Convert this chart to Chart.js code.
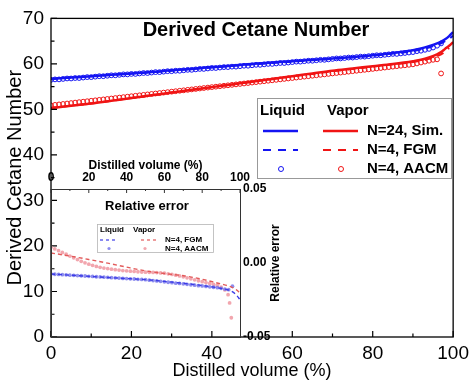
<!DOCTYPE html>
<html>
<head>
<meta charset="utf-8">
<script src="https://cdn.jsdelivr.net/npm/chart.js@4.4.1/dist/chart.umd.min.js"></script>
<style>
  body { margin: 0; background: #fff; }
  #wrap { position: relative; width: 474px; height: 384px; background: #fff; }
  #main { position: absolute; left: 0; top: 0; }
  #inset { position: absolute; left: 0; top: 140px; }
</style>
</head>
<body>
<div id="wrap">
  <canvas id="main" width="474" height="384"></canvas>
  <canvas id="inset" width="300" height="210"></canvas>
</div>
<script>
// ---- main chart data (distilled volume %, derived cetane number) ----
const lineX = [0, 5, 10, 15, 20, 25, 30, 35, 40, 45, 50, 55, 60, 65, 70, 75, 80, 85, 90, 92, 94, 96, 97, 98, 99, 100];
const liquidSim = [56.7, 57.0, 57.3, 57.6, 57.9, 58.2, 58.6, 58.9, 59.3, 59.6, 60.0, 60.3, 60.6, 60.9, 61.2, 61.5, 61.9, 62.4, 63.0, 63.4, 63.9, 64.5, 64.9, 65.4, 66.1, 67.0];
const liquidFgm = [56.7, 57.0, 57.3, 57.6, 57.9, 58.2, 58.5, 58.9, 59.2, 59.6, 59.9, 60.2, 60.5, 60.8, 61.1, 61.4, 61.8, 62.3, 62.8, 63.2, 63.6, 64.2, 64.5, 65.0, 65.5, 66.2];
const vaporSim = [50.3, 50.8, 51.3, 51.9, 52.5, 53.1, 53.7, 54.3, 54.9, 55.5, 56.1, 56.7, 57.3, 57.9, 58.5, 59.0, 59.5, 60.0, 60.6, 60.9, 61.4, 62.1, 62.6, 63.3, 64.0, 64.8];
const vaporFgm = [50.3, 50.8, 51.3, 51.9, 52.5, 53.1, 53.7, 54.3, 54.9, 55.5, 56.1, 56.7, 57.3, 57.8, 58.4, 58.9, 59.4, 59.9, 60.4, 60.7, 61.1, 61.7, 62.1, 62.7, 63.5, null];

const dotX = [0, 1, 2, 3, 4, 5, 6, 7, 8, 9, 10, 11, 12, 13, 14, 15, 16, 17, 18, 19,
  20, 21, 22, 23, 24, 25, 26, 27, 28, 29, 30, 31, 32, 33, 34, 35, 36, 37, 38, 39,
  40, 41, 42, 43, 44, 45, 46, 47, 48, 49, 50, 51, 52, 53, 54, 55, 56, 57, 58, 59,
  60, 61, 62, 63, 64, 65, 66, 67, 68, 69, 70, 71, 72, 73, 74, 75, 76, 77, 78, 79,
  80, 81, 82, 83, 84, 85, 86, 87, 88, 89, 90, 91, 92, 93, 94, 95, 96, 97];
const liquidAacm = [56.5, 56.6, 56.6, 56.7, 56.8, 56.8, 56.9, 56.9, 57.0, 57.1,
  57.1, 57.2, 57.3, 57.3, 57.4, 57.5, 57.5, 57.6, 57.7, 57.7,
  57.8, 57.8, 57.9, 58.0, 58.0, 58.1, 58.2, 58.2, 58.3, 58.4,
  58.4, 58.5, 58.5, 58.6, 58.7, 58.7, 58.8, 58.9, 58.9, 59.0,
  59.1, 59.1, 59.2, 59.3, 59.3, 59.4, 59.4, 59.5, 59.6, 59.6,
  59.7, 59.8, 59.8, 59.9, 60.0, 60.0, 60.1, 60.2, 60.2, 60.3,
  60.4, 60.5, 60.5, 60.6, 60.7, 60.7, 60.8, 60.9, 60.9, 61.0,
  61.1, 61.2, 61.2, 61.3, 61.4, 61.4, 61.5, 61.6, 61.6, 61.7,
  61.8, 61.9, 61.9, 62.0, 62.1, 62.2, 62.2, 62.3, 62.4, 62.5,
  62.6, 62.8, 62.9, 63.1, 63.3, 63.6, 64.0, 64.5];
const vaporAacm = [50.9, 51.0, 51.1, 51.2, 51.3, 51.4, 51.5, 51.6, 51.7, 51.8,
  51.9, 52.0, 52.1, 52.2, 52.3, 52.4, 52.5, 52.6, 52.7, 52.8,
  52.9, 53.0, 53.1, 53.2, 53.3, 53.4, 53.5, 53.6, 53.7, 53.8,
  53.9, 54.0, 54.1, 54.2, 54.3, 54.4, 54.5, 54.6, 54.7, 54.8,
  54.9, 55.0, 55.1, 55.2, 55.3, 55.4, 55.5, 55.6, 55.7, 55.8,
  55.9, 56.0, 56.1, 56.2, 56.3, 56.4, 56.5, 56.6, 56.7, 56.8,
  56.9, 57.0, 57.1, 57.2, 57.3, 57.4, 57.5, 57.6, 57.7, 57.8,
  57.9, 58.0, 58.1, 58.2, 58.3, 58.4, 58.5, 58.6, 58.7, 58.8,
  58.9, 59.0, 59.1, 59.2, 59.3, 59.4, 59.5, 59.6, 59.7, 59.8,
  59.9, 60.1, 60.3, 60.5, 60.7, 60.9, 61.0, 57.9];

// ---- inset data (relative error) ----
const insetLineX = [0, 10, 20, 30, 40, 50, 60, 70, 80, 90, 95, 98, 100];
const liquidFgmErr = [-0.0074, -0.0082, -0.0090, -0.0098, -0.0105, -0.0112, -0.0124, -0.0137, -0.0152, -0.0172, -0.0188, -0.0215, -0.0248];
const vaporFgmErr = [0.0068, 0.0047, 0.0024, -0.0001, -0.0028, -0.0053, -0.0071, -0.0086, -0.0110, -0.0142, -0.0160, -0.0180, -0.0203];

const liquidDotX = [0, 2, 4, 6, 8, 10, 12, 14, 16, 18, 20, 22, 24, 26, 28, 30, 32, 34, 36, 38,
  40, 42, 44, 46, 48, 50, 52, 54, 56, 58, 60, 62, 64, 66, 68, 70, 72, 74, 76, 78,
  80, 82, 84, 86, 88, 90, 92, 94, 96];
const liquidAacmErr = [-0.0074, -0.0076, -0.0077, -0.0079, -0.0080, -0.0082, -0.0083, -0.0085, -0.0086, -0.0088,
  -0.0090, -0.0091, -0.0093, -0.0094, -0.0096, -0.0097, -0.0099, -0.0100, -0.0102, -0.0104,
  -0.0105, -0.0107, -0.0108, -0.0110, -0.0111, -0.0113, -0.0116, -0.0119, -0.0121, -0.0124,
  -0.0127, -0.0130, -0.0133, -0.0136, -0.0138, -0.0141, -0.0144, -0.0147, -0.0150, -0.0153,
  -0.0155, -0.0158, -0.0161, -0.0164, -0.0167, -0.0171, -0.0176, -0.0180, -0.0157];
const vaporDotX = [0, 2, 4, 6, 8, 10, 12, 14, 16, 18, 20, 22, 24, 26, 28, 30, 32, 34, 36, 38,
  40, 42, 44, 46, 48, 50, 52, 54, 56, 58, 60, 62, 64, 66, 68, 70, 72, 74, 76, 78,
  80, 82, 84, 86, 88, 90, 92, 93.7, 94.5, 95.4];
const vaporAacmErr = [0.0106, 0.0095, 0.0083, 0.0071, 0.0059, 0.0047, 0.0035, 0.0023, 0.0011, 0.0001,
  -0.0008, -0.0016, -0.0023, -0.0029, -0.0034, -0.0038, -0.0042, -0.0045, -0.0048, -0.0051,
  -0.0053, -0.0055, -0.0057, -0.0059, -0.0061, -0.0062, -0.0063, -0.0064, -0.0065, -0.0067,
  -0.0069, -0.0073, -0.0077, -0.0082, -0.0087, -0.0093, -0.0100, -0.0107, -0.0114, -0.0120,
  -0.0126, -0.0132, -0.0138, -0.0144, -0.0152, -0.0164, -0.0182, -0.0214, -0.0270, -0.0370];

const BLUE = '#1414f2';
const RED = '#f01414';
const FONT = "'Liberation Sans', Arial, sans-serif";
Chart.defaults.font.family = FONT;
Chart.defaults.color = '#000';

const pts = (xs, ys) => xs.map((x, i) => ({ x: x, y: ys[i] }));

// frame, inward ticks, title and the two-column legend
const mainDecor = {
  id: 'mainDecor',
  afterDatasetsDraw(chart) {
    const { ctx, chartArea: a, scales: { x, y } } = chart;
    ctx.save();
    ctx.strokeStyle = '#000';
    ctx.lineWidth = 1.3;
    ctx.strokeRect(a.left, a.top, a.right - a.left, a.bottom - a.top);
    ctx.lineWidth = 1.2;
    ctx.beginPath();
    for (let v = 0; v <= 70; v += 5) {
      const py = y.getPixelForValue(v);
      ctx.moveTo(a.left, py);
      ctx.lineTo(a.left + (v % 10 === 0 ? 6 : 3.5), py);
    }
    for (let v = 0; v <= 100; v += 10) {
      const px = x.getPixelForValue(v);
      ctx.moveTo(px, a.bottom);
      ctx.lineTo(px, a.bottom - (v % 20 === 0 ? 6 : 3.5));
    }
    ctx.stroke();

    ctx.fillStyle = '#000';
    ctx.textAlign = 'center';
    ctx.textBaseline = 'middle';
    ctx.font = 'bold 20px ' + FONT;
    ctx.fillText('Derived Cetane Number', 256, 30);

    // legend box
    ctx.fillStyle = '#fff';
    ctx.fillRect(257.5, 98.5, 194, 80);
    ctx.strokeStyle = '#999';
    ctx.lineWidth = 1;
    ctx.strokeRect(257.5, 98.5, 194, 80);
    ctx.fillStyle = '#000';
    ctx.textAlign = 'left';
    ctx.font = 'bold 15px ' + FONT;
    ctx.fillText('Liquid', 260, 111);
    ctx.fillText('Vapor', 327, 111);
    ctx.fillText('N=24, Sim.', 367, 131);
    ctx.fillText('N=4, FGM', 367, 150);
    ctx.fillText('N=4, AACM', 367, 169);

    const seg = (x0, x1, yy, col, w, dash) => {
      ctx.beginPath();
      ctx.setLineDash(dash);
      ctx.strokeStyle = col;
      ctx.lineWidth = w;
      ctx.moveTo(x0, yy);
      ctx.lineTo(x1, yy);
      ctx.stroke();
      ctx.setLineDash([]);
    };
    seg(263, 298, 131, BLUE, 2.5, []);
    seg(323, 358, 131, RED, 2.5, []);
    seg(263, 298, 150, BLUE, 2, [8, 7]);
    seg(323, 358, 150, RED, 2, [8, 7]);
    ctx.lineWidth = 1;
    ctx.strokeStyle = BLUE;
    ctx.beginPath(); ctx.arc(281, 169, 2.5, 0, Math.PI * 2); ctx.stroke();
    ctx.strokeStyle = RED;
    ctx.beginPath(); ctx.arc(341, 169, 2.5, 0, Math.PI * 2); ctx.stroke();
    ctx.restore();
  }
};

const lineSet = (data, col, w, dash) => ({
  data: data, showLine: true, borderColor: col, borderWidth: w, borderDash: dash,
  pointRadius: 0, fill: false, cubicInterpolationMode: 'monotone', order: 2
});
const dotSet = (data, col) => ({
  data: data, showLine: false, pointRadius: 2.4, pointStyle: 'circle',
  pointBorderColor: col, pointBackgroundColor: 'rgba(0,0,0,0)', pointBorderWidth: 1, order: 1
});

new Chart(document.getElementById('main'), {
  type: 'scatter',
  data: {
    datasets: [
      lineSet(pts(lineX, liquidSim), BLUE, 2.5, []),
      lineSet(pts(lineX, vaporSim), RED, 2.5, []),
      lineSet(pts(lineX, liquidFgm), BLUE, 2, [7, 6]),
      lineSet(pts(lineX, vaporFgm), RED, 2, [7, 6]),
      dotSet(pts(dotX, liquidAacm), BLUE),
      dotSet(pts(dotX, vaporAacm), RED)
    ]
  },
  options: {
    responsive: false,
    animation: false,
    layout: { padding: { left: 0, top: 12, right: 16, bottom: 0 } },
    plugins: { legend: { display: false }, tooltip: { enabled: false } },
    scales: {
      x: {
        type: 'linear', min: 0, max: 100,
        grid: { display: false, drawTicks: false },
        border: { display: false },
        ticks: { stepSize: 20, font: { size: 19 }, padding: 5, maxRotation: 0 },
        title: { display: true, text: 'Distilled volume (%)', font: { size: 18 }, padding: { top: 0, bottom: 2 } },
        afterFit: (s) => { s.height = 47; }
      },
      y: {
        min: 0, max: 70,
        grid: { display: false, drawTicks: false },
        border: { display: false },
        ticks: { stepSize: 10, font: { size: 19 }, padding: 7 },
        title: { display: true, text: 'Derived Cetane Number', font: { size: 20 }, padding: { top: 3, bottom: 0 } },
        afterFit: (s) => { s.width = 51; }
      }
    }
  },
  plugins: [mainDecor]
});

// ---- inset ----
const IBLUE = '#3c3ce6';
const IRED = '#e25a5a';
const IBLUE_DOT = 'rgba(120,120,235,0.85)';
const IRED_DOT = 'rgba(240,150,160,0.85)';

const insetDecor = {
  id: 'insetDecor',
  afterDatasetsDraw(chart) {
    const { ctx, chartArea: a, scales: { x } } = chart;
    ctx.save();
    ctx.strokeStyle = '#333';
    ctx.lineWidth = 1;
    ctx.strokeRect(a.left + 0.5, a.top + 0.5, a.right - a.left, a.bottom - a.top);
    ctx.beginPath();
    for (let v = 0; v <= 100; v += 10) {
      const px = x.getPixelForValue(v);
      ctx.moveTo(px, a.top);
      ctx.lineTo(px, a.top + (v % 20 === 0 ? 4 : 2));
    }
    ctx.stroke();

    ctx.fillStyle = '#000';
    ctx.textBaseline = 'middle';
    ctx.textAlign = 'center';
    ctx.font = 'bold 13px ' + FONT;
    ctx.fillText('Relative error', 147, 66);

    // right axis title, reading upward
    ctx.save();
    ctx.translate(276, 123);
    ctx.rotate(-Math.PI / 2);
    ctx.font = 'bold 12px ' + FONT;
    ctx.fillText('Relative error', 0, 0);
    ctx.restore();

    // legend
    ctx.strokeStyle = '#b5b5b5';
    ctx.lineWidth = 0.8;
    ctx.strokeRect(97.5, 84.5, 116, 28);
    ctx.textAlign = 'left';
    ctx.font = 'bold 8px ' + FONT;
    ctx.fillStyle = '#000';
    ctx.fillText('Liquid', 100, 90);
    ctx.fillText('Vapor', 133, 90);
    ctx.fillText('N=4, FGM', 165, 100);
    ctx.fillText('N=4, AACM', 165, 108.5);
    ctx.lineWidth = 1.2;
    ctx.setLineDash([3, 3]);
    ctx.strokeStyle = IBLUE;
    ctx.beginPath(); ctx.moveTo(100, 100); ctx.lineTo(118, 100); ctx.stroke();
    ctx.strokeStyle = IRED;
    ctx.beginPath(); ctx.moveTo(141, 100); ctx.lineTo(156, 100); ctx.stroke();
    ctx.setLineDash([]);
    ctx.fillStyle = IBLUE_DOT;
    ctx.beginPath(); ctx.arc(109, 108.5, 1.6, 0, Math.PI * 2); ctx.fill();
    ctx.fillStyle = IRED_DOT;
    ctx.beginPath(); ctx.arc(145, 108.5, 1.6, 0, Math.PI * 2); ctx.fill();
    ctx.restore();
  }
};

const iLine = (data, col) => ({
  data: data, showLine: true, borderColor: col, borderWidth: 1.4, borderDash: [4, 3],
  pointRadius: 0, fill: false, cubicInterpolationMode: 'monotone', order: 1
});
const iDot = (data, col) => ({
  data: data, showLine: false, pointRadius: 1.9, pointStyle: 'circle',
  pointBackgroundColor: col, pointBorderColor: col, pointBorderWidth: 0, order: 2
});

new Chart(document.getElementById('inset'), {
  type: 'scatter',
  data: {
    datasets: [
      iLine(pts(insetLineX, liquidFgmErr), IBLUE),
      iLine(pts(insetLineX, vaporFgmErr), IRED),
      iDot(pts(liquidDotX, liquidAacmErr), IBLUE_DOT),
      iDot(pts(vaporDotX, vaporAacmErr), IRED_DOT)
    ]
  },
  options: {
    responsive: false,
    animation: false,
    layout: { padding: { left: 51, top: 0, right: 0, bottom: 13 } },
    plugins: { legend: { display: false }, tooltip: { enabled: false } },
    scales: {
      x: {
        type: 'linear', position: 'top', min: 0, max: 100,
        grid: { display: false, drawTicks: false },
        border: { display: false },
        ticks: { stepSize: 20, font: { size: 12, weight: 'bold' }, padding: 4, maxRotation: 0 },
        title: { display: true, text: 'Distilled volume (%)', font: { size: 12, weight: 'bold' }, padding: { top: 18, bottom: 0 } },
        afterFit: (s) => { s.height = 49; }
      },
      y: {
        position: 'right', min: -0.05, max: 0.05,
        grid: { display: false, drawTicks: false },
        border: { display: false },
        ticks: { stepSize: 0.05, font: { size: 12, weight: 'bold' }, padding: 3, callback: (v) => Number(v).toFixed(2) },
        afterFit: (s) => { s.width = 60; }
      }
    }
  },
  plugins: [insetDecor]
});
</script>
</body>
</html>
